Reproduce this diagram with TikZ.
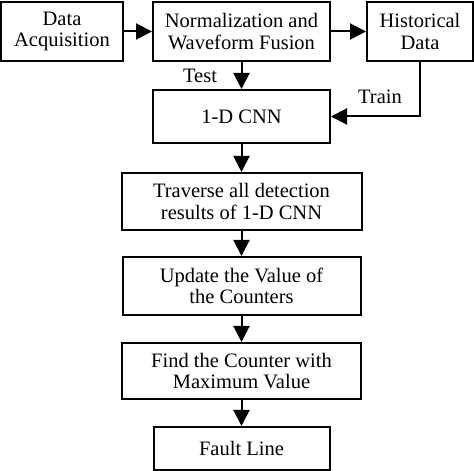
\documentclass[tikz,border=0pt]{standalone}
\usepackage{fontspec}
\setmainfont{Liberation Serif}
\usetikzlibrary{arrows.meta}
\begin{document}
\begin{tikzpicture}[x=1pt,y=1pt,
  box/.style={draw, line width=2pt, rectangle, align=center, inner sep=0pt,
    font=\fontsize{20.5}{21.5}\selectfont},
  arr/.style={line width=2pt, -{Triangle[length=16pt,width=16pt]}},
  lbl/.style={font=\fontsize{20.5}{21.5}\selectfont, inner sep=0pt}]
\useasboundingbox (0,0) rectangle (474,471);
\node[box, minimum width=122pt, minimum height=59pt] (A) at (62,439.5) {Data\\Acquisition};
\node[box, minimum width=177pt, minimum height=59pt] (B) at (241.5,439.5) {Normalization and\\Waveform Fusion};
\node[box, minimum width=106pt, minimum height=59pt] (C) at (420,439.5) {Historical\\Data};
\node[box, minimum width=177pt, minimum height=53pt] (D) at (241.5,354.5) {1-D CNN};
\node[box, minimum width=240pt, minimum height=57pt] (E) at (241.5,269.5) {Traverse all detection\\results of 1-D CNN};
\node[box, minimum width=238pt, minimum height=58pt] (F) at (241.5,185) {Update the Value of\\the Counters};
\node[box, minimum width=239pt, minimum height=56pt] (G) at (241.5,100) {Find the Counter with\\Maximum Value};
\node[box, minimum width=176pt, minimum height=43pt] (H) at (241.5,22.5) {Fault Line};
\draw[arr] (A) -- (B);
\draw[arr] (B) -- (C);
\draw[arr] (B) -- (D);
\draw[arr] (C.south) |- (D.east);
\draw[arr] (D) -- (E);
\draw[arr] (E) -- (F);
\draw[arr] (F) -- (G);
\draw[arr] (G) -- (H);
\node[lbl] (test) at (200,395) {Test};
\node[lbl] (train) at (380,374) {Train};
\end{tikzpicture}
\end{document}
